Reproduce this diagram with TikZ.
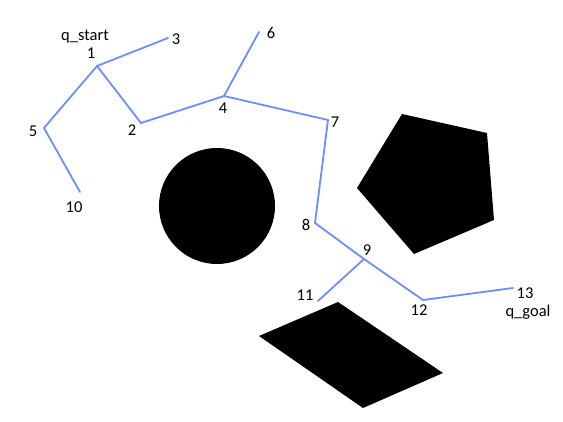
\documentclass[tikz,border=0pt]{standalone}
\usepackage{fontspec}
\setmainfont{Carlito}
\usetikzlibrary{positioning}
\definecolor{treeblue}{RGB}{108,142,250}

\begin{document}
\begin{tikzpicture}[x=1pt,y=-1pt]
  \tikzset{
    edgestyle/.style={draw=treeblue, line width=1.8pt, line cap=round},
    vlabel/.style={font=\fontsize{16.5}{18}\selectfont, inner sep=0pt},
    obstacle/.style={fill=black},
  }
  \useasboundingbox (0,0) rectangle (563,422);

  % tree vertices (in pixels of the picture)
  \foreach \n/\x/\y in {1/97/66,2/141/123,3/168/38,4/224/96,5/44/128,
    6/259/32,7/328/120,8/315/223,9/364/259,10/80/192,11/318/301,
    12/423/300,13/513/288}
  \coordinate (v\n) at (\x,\y);

  % vertex numbers
  \foreach \n/\x/\y in {1/91/53,2/132/130,3/176/39,4/223/108,5/33/131,
    6/271/33,7/335/122,8/306/225,9/367/250,10/74/207,11/305/295,
    12/419/310,13/525/293}
  \node[vlabel] (l\n) at (\x,\y) {\n};

  \node[vlabel, above=4pt of l1, xshift=-6pt] (start) {q\_start};
  \node[vlabel, below=6pt of l13, xshift=3pt] (goal) {q\_goal};

  % edges of the tree
  \foreach \a/\b in {1/3,1/5,5/10,1/2,2/4,4/6,4/7,7/8,8/9,9/11,9/12,12/13}
  \draw[edgestyle] (v\a) -- (v\b);

  % obstacles
  \fill[obstacle] (217,206) circle (58pt);
  \fill[obstacle] (402,114) -- (487,133) -- (494,220) -- (414,254)
    -- (357,188) -- cycle;
  \fill[obstacle] (259,336) -- (338,302) -- (443,373) -- (363,408) -- cycle;
\end{tikzpicture}
\end{document}
